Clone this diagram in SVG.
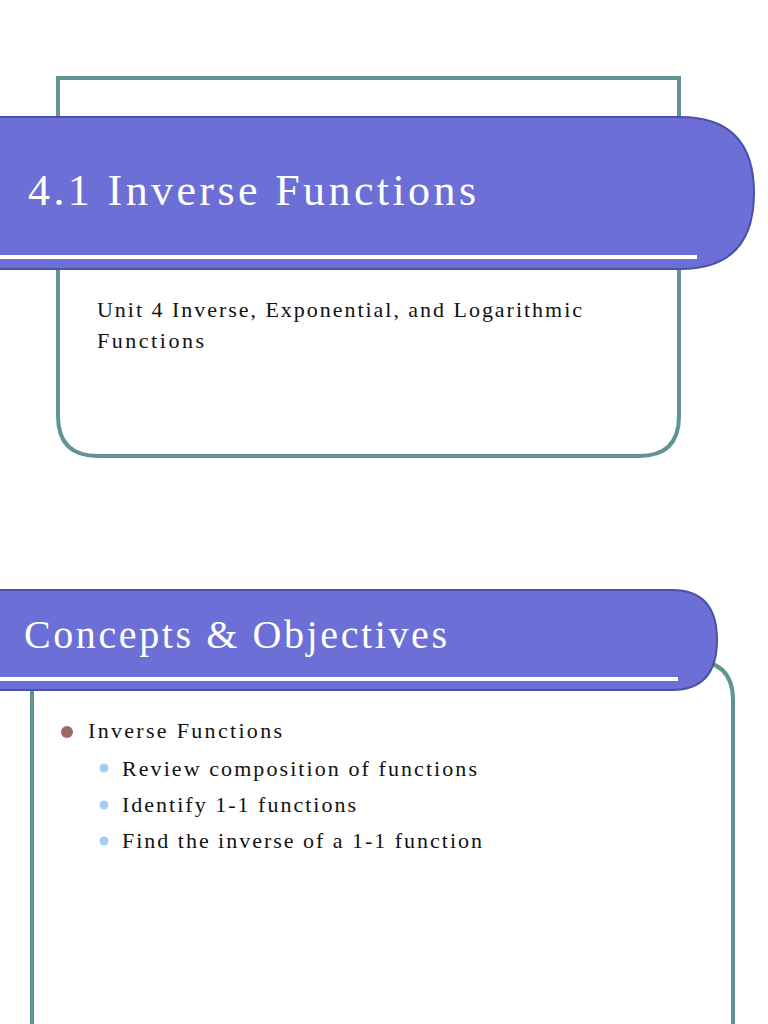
<svg xmlns="http://www.w3.org/2000/svg" width="768" height="1024" viewBox="0 0 768 1024">
<style>
.frame{fill:#fff;stroke:#5f9493;stroke-width:4}
.banner{fill:#6c6fd6;stroke:#4b50a8;stroke-width:2}
.rule{stroke:#fff;stroke-width:4}
.title{font-family:"Liberation Serif",serif;fill:#fff}
.body{font-family:"Liberation Serif",serif;fill:#111;font-size:22px}
</style>
<rect width="768" height="1024" fill="#fff"/>
<g id="slide1">
<path class="frame" d="M58 78 H679 V416 Q679 456 639 456 H98 Q58 456 58 416 Z"/>
<path class="banner" d="M-2 117 H680 Q754 117 754 193 Q754 269 680 269 H-2 Z"/>
<line class="rule" x1="0" y1="257" x2="697" y2="257"/>
<text class="title" x="28" y="205" font-size="44" textLength="448">4.1 Inverse Functions</text>
<text class="body" x="97" y="317" textLength="485">Unit 4 Inverse, Exponential, and Logarithmic</text>
<text class="body" x="97" y="348" textLength="107">Functions</text>
</g>
<g id="slide2">
<path class="frame" d="M32 1030 V660 H690 Q733 660 733 700 V1030"/>
<path class="banner" d="M-2 590 H672 Q717 590 717 640 Q717 690 672 690 H-2 Z"/>
<line class="rule" x1="0" y1="679" x2="678" y2="679"/>
<text class="title" x="24" y="648" font-size="40" textLength="423">Concepts &amp; Objectives</text>
<circle cx="67" cy="732" r="6" fill="#9b6a63"/>
<text class="body" x="88" y="738" textLength="194">Inverse Functions</text>
<circle cx="104" cy="768" r="4.5" fill="#9fcdf4"/>
<text class="body" x="122" y="776" textLength="355">Review composition of functions</text>
<circle cx="104" cy="805" r="4.5" fill="#9fcdf4"/>
<text class="body" x="122" y="812" textLength="234">Identify 1-1 functions</text>
<circle cx="104" cy="841" r="4.5" fill="#9fcdf4"/>
<text class="body" x="122" y="848" textLength="360">Find the inverse of a 1-1 function</text>
</g>
</svg>
